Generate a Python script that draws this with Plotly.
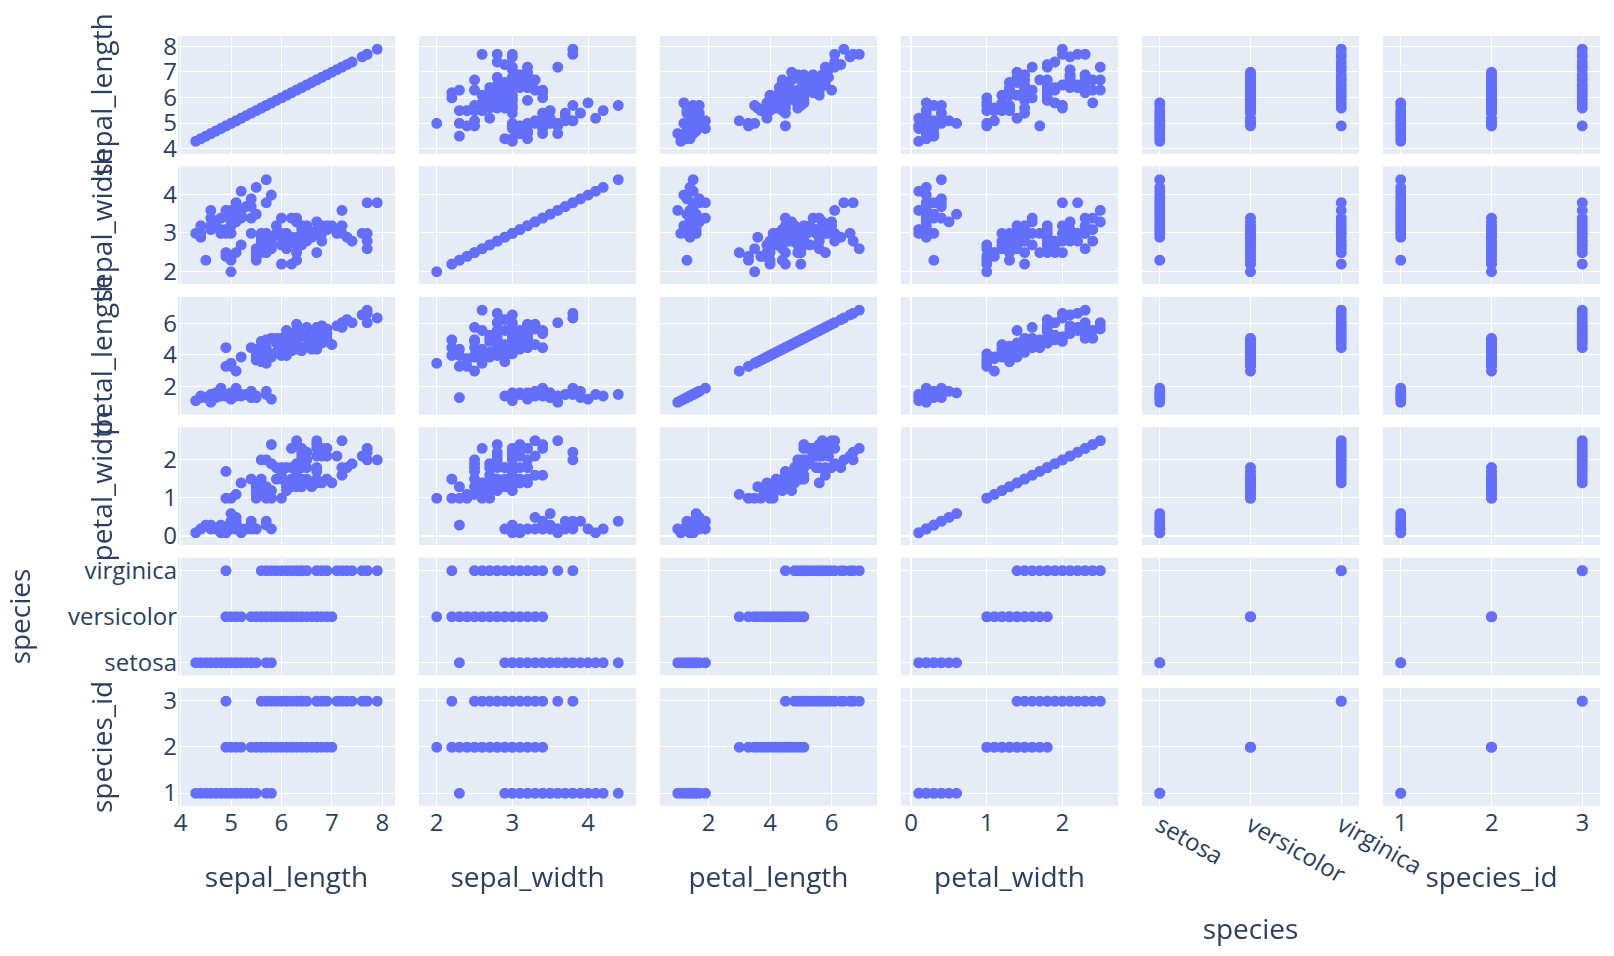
import plotly.graph_objects as go

sepal_length = [5.1,4.9,4.7,4.6,5.0,5.4,4.6,5.0,4.4,4.9,5.4,4.8,4.8,4.3,5.8,5.7,5.4,5.1,5.7,5.1,5.4,5.1,4.6,5.1,4.8,5.0,5.0,5.2,5.2,4.7,4.8,5.4,5.2,5.5,4.9,5.0,5.5,4.9,4.4,5.1,5.0,4.5,4.4,5.0,5.1,4.8,5.1,4.6,5.3,5.0,
7.0,6.4,6.9,5.5,6.5,5.7,6.3,4.9,6.6,5.2,5.0,5.9,6.0,6.1,5.6,6.7,5.6,5.8,6.2,5.6,5.9,6.1,6.3,6.1,6.4,6.6,6.8,6.7,6.0,5.7,5.5,5.5,5.8,6.0,5.4,6.0,6.7,6.3,5.6,5.5,5.5,6.1,5.8,5.0,5.6,5.7,5.7,6.2,5.1,5.7,
6.3,5.8,7.1,6.3,6.5,7.6,4.9,7.3,6.7,7.2,6.5,6.4,6.8,5.7,5.8,6.4,6.5,7.7,7.7,6.0,6.9,5.6,7.7,6.3,6.7,7.2,6.2,6.1,6.4,7.2,7.4,7.9,6.4,6.3,6.1,7.7,6.3,6.4,6.0,6.9,6.7,6.9,5.8,6.8,6.7,6.7,6.3,6.5,6.2,5.9]

sepal_width = [3.5,3.0,3.2,3.1,3.6,3.9,3.4,3.4,2.9,3.1,3.7,3.4,3.0,3.0,4.0,4.4,3.9,3.5,3.8,3.8,3.4,3.7,3.6,3.3,3.4,3.0,3.4,3.5,3.4,3.2,3.1,3.4,4.1,4.2,3.1,3.2,3.5,3.6,3.0,3.4,3.5,2.3,3.2,3.5,3.8,3.0,3.8,3.2,3.7,3.3,
3.2,3.2,3.1,2.3,2.8,2.8,3.3,2.4,2.9,2.7,2.0,3.0,2.2,2.9,2.9,3.1,3.0,2.7,2.2,2.5,3.2,2.8,2.5,2.8,2.9,3.0,2.8,3.0,2.9,2.6,2.4,2.4,2.7,2.7,3.0,3.4,3.1,2.3,3.0,2.5,2.6,3.0,2.6,2.3,2.7,3.0,2.9,2.9,2.5,2.8,
3.3,2.7,3.0,2.9,3.0,3.0,2.5,2.9,2.5,3.6,3.2,2.7,3.0,2.5,2.8,3.2,3.0,3.8,2.6,2.2,3.2,2.8,2.8,2.7,3.3,3.2,2.8,3.0,2.8,3.0,2.8,3.8,2.8,2.8,2.6,3.0,3.4,3.1,3.0,3.1,3.1,3.1,2.7,3.2,3.3,3.0,2.5,3.0,3.4,3.0]

petal_length = [1.4,1.4,1.3,1.5,1.4,1.7,1.4,1.5,1.4,1.5,1.5,1.6,1.4,1.1,1.2,1.5,1.3,1.4,1.7,1.5,1.7,1.5,1.0,1.7,1.9,1.6,1.6,1.5,1.4,1.6,1.6,1.5,1.5,1.4,1.5,1.2,1.3,1.4,1.3,1.5,1.3,1.3,1.3,1.6,1.9,1.4,1.6,1.4,1.5,1.4,
4.7,4.5,4.9,4.0,4.6,4.5,4.7,3.3,4.6,3.9,3.5,4.2,4.0,4.7,3.6,4.4,4.5,4.1,4.5,3.9,4.8,4.0,4.9,4.7,4.3,4.4,4.8,5.0,4.5,3.5,3.8,3.7,3.9,5.1,4.5,4.5,4.7,4.4,4.1,4.0,4.4,4.6,4.0,3.3,4.2,4.2,4.2,4.3,3.0,4.1,
6.0,5.1,5.9,5.6,5.8,6.6,4.5,6.3,5.8,6.1,5.1,5.3,5.5,5.0,5.1,5.3,5.5,6.7,6.9,5.0,5.7,4.9,6.7,4.9,5.7,6.0,4.8,4.9,5.6,5.8,6.1,6.4,5.6,5.1,5.6,6.1,5.6,5.5,4.8,5.4,5.6,5.1,5.1,5.9,5.7,5.2,5.0,5.2,5.4,5.1]

petal_width = [0.2,0.2,0.2,0.2,0.2,0.4,0.3,0.2,0.2,0.1,0.2,0.2,0.1,0.1,0.2,0.4,0.4,0.3,0.3,0.3,0.2,0.4,0.2,0.5,0.2,0.2,0.4,0.2,0.2,0.2,0.2,0.4,0.1,0.2,0.1,0.2,0.2,0.1,0.2,0.2,0.3,0.3,0.2,0.6,0.4,0.3,0.2,0.2,0.2,0.2,
1.4,1.5,1.5,1.3,1.5,1.3,1.6,1.0,1.3,1.4,1.0,1.5,1.0,1.4,1.3,1.4,1.5,1.0,1.5,1.1,1.8,1.3,1.5,1.2,1.3,1.4,1.4,1.7,1.5,1.0,1.1,1.0,1.2,1.6,1.5,1.6,1.5,1.3,1.3,1.3,1.2,1.4,1.2,1.0,1.3,1.2,1.3,1.3,1.1,1.3,
2.5,1.9,2.1,1.8,2.2,2.1,1.7,1.8,1.8,2.5,2.0,1.9,2.1,2.0,2.4,2.3,1.8,2.2,2.3,1.5,2.3,2.0,2.0,1.8,2.1,1.8,1.8,1.8,2.1,1.6,1.9,2.0,2.2,1.5,1.4,2.3,2.4,1.8,1.8,2.1,2.4,2.3,1.9,2.3,2.5,2.3,1.9,2.0,2.3,1.8]

species_names = ["setosa", "versicolor", "virginica"]
species_ids = [1, 2, 3]
counts_per_species = [50, 50, 50]

species = []
species_id = []
for name, sid, n in zip(species_names, species_ids, counts_per_species):
    species += [name] * n
    species_id += [sid] * n

columns = ["sepal_length", "sepal_width", "petal_length", "petal_width", "species", "species_id"]
values = [sepal_length, sepal_width, petal_length, petal_width, species, species_id]

fig = go.Figure(go.Splom(
    dimensions=[dict(label=c, values=v) for c, v in zip(columns, values)],
    marker=dict(color="#636efa", size=11),
    showlegend=False,
))

# layout geometry (pixels)
W, H = 1614, 956
ML, MR, MT, MB = 178, 14, 36, 150
pw = W - ML - MR
ph = H - MT - MB
n = len(columns)
cell_w, gap_w = 217, 24
cell_h, gap_h = 117.8, 12.6

layout_axes = {}
for i in range(n):
    x0 = i * (cell_w + gap_w) / pw
    x1 = (i * (cell_w + gap_w) + cell_w) / pw
    top = i * (cell_h + gap_h)
    y1 = 1 - top / ph
    y0 = 1 - (top + cell_h) / ph
    suffix = "" if i == 0 else str(i + 1)
    layout_axes["xaxis" + suffix] = dict(domain=[max(0, x0), min(1, x1)], automargin=False,
                                         title=dict(standoff=30, font=dict(size=28)))
    layout_axes["yaxis" + suffix] = dict(domain=[max(0, y0), min(1, y1)], automargin=False,
                                         title=dict(standoff=42, font=dict(size=28)))
layout_axes["xaxis6"]["dtick"] = 1
layout_axes["yaxis6"]["dtick"] = 1

fig.update_layout(
    template="plotly",
    width=W, height=H,
    font=dict(size=24),
    margin=dict(l=ML, r=MR, t=MT, b=MB),
    dragmode="select",
    **layout_axes,
)
fig.write_html("out.html")
